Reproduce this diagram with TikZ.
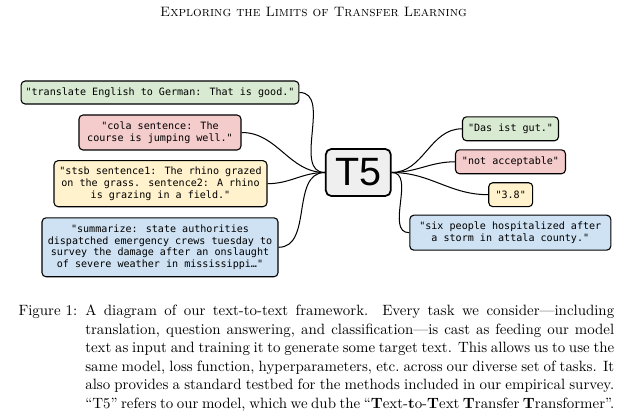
\documentclass[tikz,border=0pt]{standalone}
\usepackage{fontspec}
\newfontfamily\boxfont{DejaVu Sans Mono}
\newfontfamily\modelfont{Liberation Sans}
\definecolor{taskgreen}{HTML}{D9EAD3}
\definecolor{taskred}{HTML}{F4CCCC}
\definecolor{taskyellow}{HTML}{FFF2CC}
\definecolor{taskblue}{HTML}{CFE2F3}
\definecolor{modelgray}{HTML}{EFEFEF}
\tikzset{
  textbox/.style={draw, line width=0.8pt, rounded corners=3pt, align=center, inner sep=0pt,
    font=\boxfont\fontsize{7.4}{8.6}\selectfont},
  link/.style={line width=0.75pt, out=0, in=180},
}

\begin{document}
\begin{tikzpicture}[x=0.7343pt, y=-0.7343pt]
\useasboundingbox (0,0) rectangle (631,414);
\node[anchor=base] (header) at (313.5,17) {\fontsize{10}{12}\selectfont\scshape Exploring the Limits of Transfer Learning};

\node[textbox, fill=taskgreen, minimum width=204pt, minimum height=16.9pt] (translate) at (160,92.5)
  {"translate English to German: That is good."};
\node[textbox, fill=taskred, minimum width=119pt, minimum height=25.7pt] (cola) at (160,132.5)
  {"cola sentence: The\\course is jumping well."};
\node[textbox, fill=taskyellow, minimum width=156.4pt, minimum height=33.8pt] (stsb) at (160.5,183.7)
  {"stsb sentence1: The rhino grazed\\on the grass. sentence2: A rhino\\is grazing in a field."};
\node[textbox, fill=taskblue, minimum width=173.3pt, minimum height=43.3pt] (summarize) at (160,247.3)
  {"summarize: state authorities\\dispatched emergency crews tuesday to\\survey the damage after an onslaught\\of severe weather in mississippi…"};

\node[draw, line width=1.3pt, rounded corners=4pt, fill=modelgray, minimum width=47.7pt, minimum height=34.5pt,
  inner sep=0pt, font=\modelfont\fontsize{29}{30}\selectfont] (t5) at (358.3,172.5) {T5};

\node[textbox, fill=taskgreen, minimum width=70.5pt, minimum height=17.6pt] (das) at (510.5,128.8) {"Das ist gut."};
\node[textbox, fill=taskred, minimum width=80.8pt, minimum height=17.6pt] (notacc) at (510.5,161.8) {"not acceptable"};
\node[textbox, fill=taskyellow, minimum width=32.3pt, minimum height=17.6pt] (score) at (510.7,194.7) {"3.8"};
\node[textbox, fill=taskblue, minimum width=147.6pt, minimum height=25.7pt] (six) at (510.3,232.7)
  {"six people hospitalized after\\a storm in attala county."};

\foreach \src in {translate, cola, stsb, summarize}
  \draw[link] (\src.east) to (t5.west);
\foreach \dst in {das, notacc, score, six}
  \draw[link] (t5.east) to (\dst.west);

\node[anchor=base west, inner sep=0pt] (caption) at (18.3,315.7) {\parbox[t]{437.4pt}{\fontsize{10.95}{13.6}\selectfont
  \hangindent=49pt\hangafter=1\noindent\makebox[49pt][l]{Figure 1:}A diagram of our text-to-text framework. Every
  task we consider---including translation, question answering, and classification---is cast as feeding our model
  text as input and training it to generate some target text. This allows us to use the same model, loss function,
  hyperparameters, etc.\ across our diverse set of tasks. It also provides a standard testbed for the methods
  included in our empirical survey. ``T5'' refers to our model, which we dub the
  ``\textbf{T}ext-\textbf{t}o-\textbf{T}ext \textbf{T}ransfer \textbf{T}ransformer''.}};
\end{tikzpicture}
\end{document}
